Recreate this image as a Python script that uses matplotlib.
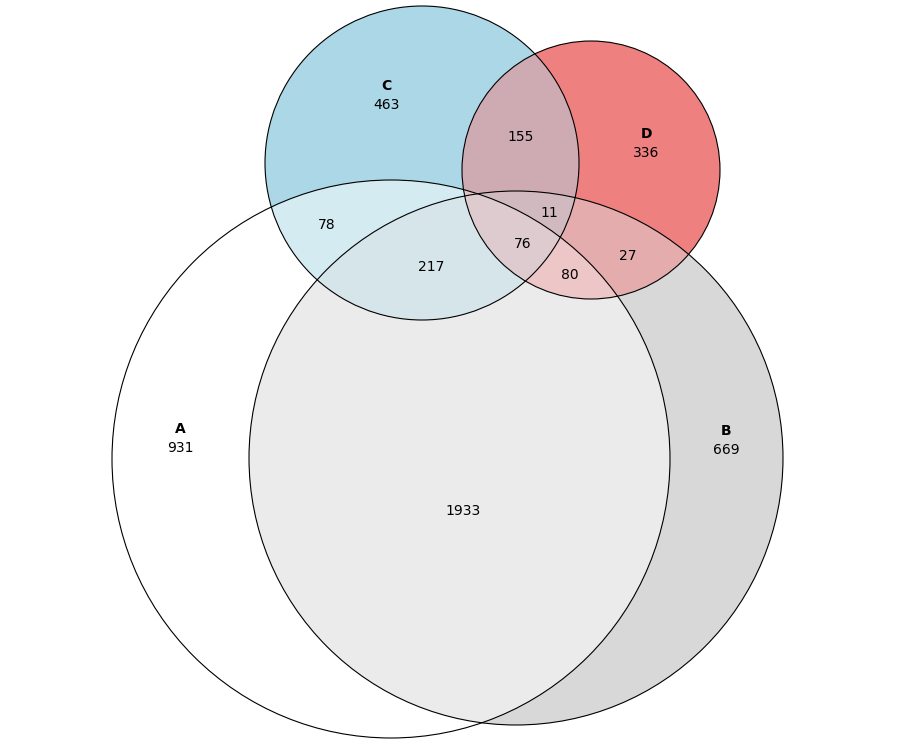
import numpy as np
import matplotlib
matplotlib.use("Agg")
import matplotlib.pyplot as plt
from matplotlib.patches import Circle

sets = ["A", "B", "C", "D"]
set_totals = [931, 669, 463, 336]
region_names = ["C&D", "A&C", "A&B&C&D", "A&B&C", "A&B&C?", "B&D", "A&B&D", "A&B"]
region_labels = ["155", "78", "11", "76", "217", "27", "80", "1933"]

colors = {"A": (1.0, 1.0, 1.0), "B": (0.85, 0.85, 0.85),
          "C": (0.678, 0.847, 0.902), "D": (0.941, 0.502, 0.502)}
geom = {"A": (391, 459, 279), "B": (516, 458, 267),
        "C": (422, 163, 157), "D": (591, 170, 129)}

W, H = 897, 746
fig = plt.figure(figsize=(W / 100, H / 100), dpi=100)
ax = fig.add_axes([0, 0, 1, 1])
ax.set_xlim(0, W); ax.set_ylim(H, 0); ax.axis("off")

yy, xx = np.mgrid[0:H, 0:W] + 0.5
img = np.ones((H, W, 3))
acc = np.zeros((H, W, 3)); cnt = np.zeros((H, W))
for s in sets:
    cx, cy, r = geom[s]
    m = (xx - cx) ** 2 + (yy - cy) ** 2 <= r * r
    acc[m] += colors[s]; cnt[m] += 1
nz = cnt > 0
img[nz] = acc[nz] / cnt[nz][:, None]
ax.imshow(img, extent=(0, W, H, 0), interpolation="bilinear")
for s in sets:
    cx, cy, r = geom[s]
    ax.add_patch(Circle((cx, cy), r, fill=False, ec="black", lw=0.8))

name_pos = {"A": (180, 429), "B": (726, 431), "C": (386, 86), "D": (646, 134)}
for s, t in zip(sets, set_totals):
    x, y = name_pos[s]
    ax.text(x, y, s, ha="center", va="center", fontsize=10, fontweight="bold")
    ax.text(x, y + 19, str(t), ha="center", va="center", fontsize=10)

reg_pos = [(521, 137), (327, 225), (549, 213), (523, 244), (431, 267),
           (628, 256), (570, 275), (463, 511)]
for (x, y), t in zip(reg_pos, region_labels):
    ax.text(x, y, t, ha="center", va="center", fontsize=10)

fig.savefig("out.png", dpi=100)
